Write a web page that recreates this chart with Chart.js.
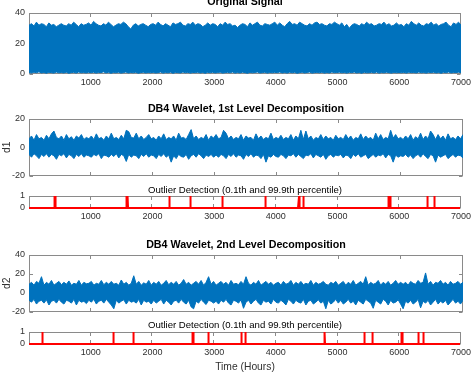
<!DOCTYPE html>
<html>
<head>
<meta charset="utf-8">
<script src="https://cdn.jsdelivr.net/npm/chart.js@4.4.1/dist/chart.umd.min.js"></script>
<style>
  html, body { margin: 0; padding: 0; background: #fff; }
  #figure { position: relative; width: 474px; height: 372px; overflow: hidden; background: #fff; }
  #figure canvas { position: absolute; left: 0; }
</style>
</head>
<body>
<div id="figure">
  <canvas id="signal-chart" width="474" height="94" style="top:-4px"></canvas>
  <canvas id="d1-chart" width="474" height="82" style="top:103px"></canvas>
  <canvas id="d1-outlier-chart" width="474" height="38" style="top:184px"></canvas>
  <canvas id="d2-chart" width="474" height="82" style="top:239px"></canvas>
  <canvas id="d2-outlier-chart" width="474" height="53" style="top:319px"></canvas>
</div>
<script>
// time axis (hours)
const xMin = 0;
const xMax = 7000;
const xTickValues = [1000, 2000, 3000, 4000, 5000, 6000, 7000];

// original signal: upper / lower edge of the band, read every ~40 hours
const signalHigh = [
  32, 33, 31.5, 34, 32, 33, 32.5, 31, 33.5, 32, 32.5, 31, 32, 33, 32, 31.5, 33, 32, 34, 32.5, 31, 33, 32, 32.5, 33.5,
  32, 34.5, 33, 32, 31.5, 33, 32, 34, 32.5, 31, 32, 33, 32.5, 34, 33, 31, 29.5, 32, 33, 31.5, 32.5, 33, 32, 31, 32.5,
  33, 32, 34, 32.5, 31.5, 33, 32, 31, 33.5, 32.5, 33, 34, 32, 31.5, 33, 32.5, 34, 32, 33, 32.5, 31, 32, 33.5, 32, 33,
  32.5, 31, 33, 32, 34, 32.5, 33, 31.5, 32, 30.5, 32, 33, 32.5, 31, 33.5, 32, 33, 34, 32, 31.5, 33, 32.5, 32, 33, 34,
  32, 33.5, 32, 31, 33, 34.5, 32.5, 33, 32, 34, 33, 32, 31.5, 33, 32, 33.5, 34, 32.5, 33, 32, 31.5, 33, 32.5, 34, 33,
  32, 33.5, 31, 32.5, 30, 32, 33, 32.5, 31.5, 33, 32, 34, 32.5, 33, 31.5, 32, 33, 32.5, 34, 32, 33, 31.5, 32, 33.5, 32,
  32.5, 31, 33, 32, 34.5, 33, 32, 33.5, 32, 31.5, 33, 32.5, 34, 32, 33, 31.5, 32.5, 33, 34, 32, 31, 33.5, 32.5, 34, 32
];
const signalLow = [
  1, 0.6, 1.2, 0.8, 1.4, 0.7, 1, 0.5, 1.1, 0.9, 0.6, 1.3, 0.8, 1, 0.7, 1.2, 0.5, 0.9, 1.1, 0.6, 1.3, 0.8, 1, 0.7, 1.1,
  0.8, 1.2, 0.6, 1, 0.9, 1.4, 0.7, 1.1, 0.5, 1, 0.8, 1.2, 0.6, 0.9, 1.3, 0.7, 1, 0.8, 1.1, 0.5, 0.9, 1.2, 0.7, 1, 0.8,
  1.1, 0.7, 0.9, 1.3, 0.6, 1, 0.8, 1.2, 0.5, 1, 0.9, 0.7, 1.3, 0.8, 1.1, 0.6, 1, 0.9, 1.2, 0.7, 1, 0.5, 1.1, 0.8, 1.2,
  0.7, 1, 1.2, 0.6, 0.9, 1.1, 0.8, 1.3, 0.6, 1, 0.7, 1.2, 0.9, 0.5, 1.1, 0.8, 1, 1.3, 0.7, 0.9, 1.2, 0.6, 1, 0.8, 1.1,
  0.9, 1.3, 0.7, 1, 0.6, 1.2, 0.8, 1.1, 0.5, 0.9, 1.2, 0.7, 1, 1.3, 0.6, 0.9, 1.1, 0.8, 1.2, 0.6, 1, 0.7, 1.3, 0.9, 1,
  1.2, 0.8, 1, 0.6, 1.1, 0.9, 1.3, 0.7, 1, 0.5, 1.2, 0.8, 0.9, 1.1, 0.7, 1.3, 0.6, 1, 0.8, 1.2, 0.9, 0.6, 1.1, 0.8, 1,
  0.8, 1.1, 0.6, 1.2, 0.9, 1, 0.7, 1.3, 0.8, 1, 0.6, 1.1, 0.9, 1.2, 0.7, 1, 0.5, 1.1, 0.8, 1.3, 0.7, 1, 0.9, 1.2, 0.8
];

// DB4 level 1 detail (d1)
const d1High = [
  6, 8, 5, 9, 6, 7, 5, 8.5, 6, 9.5, 11.5, 7, 6, 8, 5, 9, 6, 7.5, 5, 8, 6.5, 9, 5.5, 7, 6,
  8, 5.5, 9.5, 6, 7, 5, 8, 6, 10, 6, 7, 5.5, 8.5, 6, 12, 11, 7, 6.5, 10, 6, 8, 5.5, 7, 9, 6,
  7, 5, 8, 6, 9.5, 5.5, 7, 6, 8, 5, 10, 6.5, 7, 5.5, 9, 12.5, 6, 8, 5.5, 7, 6, 9, 5, 8, 6.5,
  9, 6, 7, 12, 10, 6, 8, 5.5, 7, 6, 9, 5, 8, 6.5, 7, 5, 9.5, 6, 8, 5.5, 7, 6, 10, 5.5, 7,
  6, 8.5, 5.5, 7, 6, 9, 5, 8, 6, 12, 5.5, 11.5, 6, 8, 5, 7, 6, 9, 5.5, 8, 6, 7, 5, 8.5, 6,
  7, 5.5, 9, 6, 8, 5, 7, 6, 9.5, 5.5, 8, 6, 7, 5, 10, 6, 9, 5.5, 7, 6, 12, 6.5, 9, 6, 7,
  5.5, 8, 6, 9, 5, 7.5, 6, 10, 5.5, 8, 6, 11.5, 9, 5.5, 9, 6, 8, 5, 9.5, 6, 7, 5.5, 8, 6, 9
];
const d1Low = [
  -5, -7, -4.5, -6, -8, -5, -6.5, -4.5, -7, -5, -6, -8.5, -5, -6, -4.5, -7.5, -5, -6, -8, -5, -6.5, -4.5, -7, -5.5, -6,
  -7, -5, -6, -4.5, -8, -5.5, -6, -7, -5, -6.5, -4.5, -7.5, -5, -6, -10, -5, -7, -5.5, -6, -8, -5, -6.5, -4.5, -7, -5.5,
  -6, -8, -5, -6.5, -4.5, -7, -5.5, -10.5, -6, -8, -5, -6.5, -7, -5, -8.5, -6, -5, -7, -4.5, -6, -8, -5.5, -6.5, -5, -7,
  -5.5, -7, -5, -6, -8, -5, -6.5, -4.5, -7, -5.5, -6, -8.5, -5, -6.5, -4.5, -7, -5.5, -6, -8, -5, -10.5, -6, -7, -5, -6.5,
  -7, -5, -6, -8, -5.5, -6, -4.5, -7, -5, -6.5, -8, -5.5, -6, -4.5, -7.5, -5, -6, -7, -5, -8.5, -6, -5, -7, -5.5, -6,
  -5, -7.5, -5.5, -6, -8, -5, -6.5, -4.5, -7, -6, -5, -8, -6.5, -5, -7, -5.5, -6, -4.5, -7.5, -5, -6, -10.5, -5.5, -7, -6,
  -6.5, -5, -7, -5.5, -8, -6, -5, -7, -4.5, -6.5, -8, -5, -6, -10.5, -5.5, -7, -6, -5, -8, -6.5, -5, -7, -5.5, -6, -7.5
];

// DB4 level 2 detail (d2)
const d2High = [
  9, 11, 8, 12, 10, 17, 8, 11, 9, 13, 8, 10, 12, 8.5, 11, 9, 12.5, 8, 10, 9, 13, 8, 11, 9.5, 10,
  12, 8, 10, 9, 13, 8.5, 11, 9, 12, 9, 10, 8, 13.5, 9, 11, 8, 10, 18, 9, 12, 8, 10.5, 9, 13, 8,
  11, 9, 12, 8, 10, 13, 8.5, 11, 9, 12, 8, 10, 14, 9, 11, 8, 10, 12, 9, 13, 8, 11, 17, 9, 12,
  8, 10, 12, 9, 11, 8, 13, 9, 10, 8.5, 12, 9, 17, 10, 8, 11, 9, 13, 8, 10, 12, 9, 11, 8, 10,
  11, 8, 12, 9, 10, 13, 8, 11, 9, 12, 8.5, 10, 9, 13, 8, 11, 9, 10, 12, 9, 8, 11, 9.5, 12, 8,
  10, 12, 8, 11, 9, 13, 8, 10, 12, 9, 17, 8, 11, 9, 10, 13, 8, 11, 9, 12, 8, 10, 13, 9, 11,
  9, 11, 8, 12, 10, 9, 13, 10, 11, 21, 9, 12, 8, 11, 10, 13, 9, 11, 8, 12, 9, 10, 12, 9, 11
];
const d2Low = [
  -8, -10, -7, -12, -9, -8, -11, -7.5, -13, -9, -8, -11, -7, -10, -12, -8, -9, -11, -7, -13, -8, -10, -9, -11.5, -8,
  -10, -7, -12, -9, -8, -11, -7, -10, -13, -17, -8, -11, -9, -7.5, -12, -8, -10, -9, -11, -7, -13, -8, -10, -9, -12,
  -8, -11, -9, -7, -12, -8, -10, -13, -9, -8, -11, -7, -10, -12, -8, -15, -17, -9, -11, -7, -10, -12.5, -8, -9, -11,
  -9, -12, -8, -10, -7, -11, -13, -8, -9, -11, -7.5, -16.5, -10, -8, -12, -9, -7, -11, -13, -8, -10, -9, -12, -7, -10,
  -11, -8, -10, -13, -7, -9, -12, -8, -10, -11, -7, -13, -9, -8, -12, -10, -7.5, -11, -9, -17, -8, -12, -10, -7, -11,
  -8, -12, -10, -7, -11, -9, -13, -8, -10, -12, -7, -9, -11, -16.5, -8, -10, -12, -7, -9, -13, -8, -11, -10, -7.5, -12,
  -17, -9, -11, -8, -12, -10, -7, -16, -9, -11, -8, -13, -10, -7, -12, -9, -11, -8, -13, -10, -7, -11, -9, -12, -8
];

// hours flagged as outliers (outside 0.1th / 99.9th percentile)
const d1OutlierHours = [416, 422, 1588, 1596, 1604, 2279, 2618, 3134, 3828, 4376, 4447, 5823, 5855, 6463, 6570];
const d2OutlierHours = [215, 1366, 1694, 2650, 2658, 2666, 2915, 3447, 3512, 4796, 5441, 5560, 6040, 6048, 6318, 6399];

const blue = '#0072BD';
const red = '#FF0000';
const axisColor = '#8a8a8a';
const textColor = '#303030';
const fontFamily = '"Liberation Sans", Arial, Helvetica, sans-serif';
const tickFont = { family: fontFamily, size: 9 };
const tickLen = 3.5;

Chart.defaults.font.family = fontFamily;

function bandPoints(values) {
  const step = (xMax - xMin) / (values.length - 1);
  return values.map((v, i) => ({ x: xMin + i * step, y: v }));
}

function flagPoints(outlierHours) {
  const marked = new Set(outlierHours);
  const points = [];
  for (let h = xMin; h <= xMax; h++) {
    points.push({ x: h, y: marked.has(h) ? 1 : 0 });
  }
  return points;
}

function bandDatasets(high, low) {
  return [
    { data: bandPoints(high), borderColor: blue, backgroundColor: blue, borderWidth: 1, pointRadius: 0, fill: '+1' },
    { data: bandPoints(low), borderColor: blue, borderWidth: 1, pointRadius: 0, fill: false }
  ];
}

function flagDatasets(outlierHours) {
  return [
    { data: flagPoints(outlierHours), borderColor: red, borderWidth: 2, pointRadius: 0, fill: false, clip: false }
  ];
}

// MATLAB-like axes box with inward tick marks on all four sides
const matlabBox = {
  id: 'matlabBox',
  beforeDatasetsDraw(chart) {
    const { ctx, chartArea: a, scales: { x, y } } = chart;
    const L = Math.round(a.left) + 0.5, R = Math.round(a.right) - 0.5;
    const T = Math.round(a.top) + 0.5, B = Math.round(a.bottom) - 0.5;
    ctx.save();
    ctx.strokeStyle = axisColor;
    ctx.lineWidth = 1;
    ctx.strokeRect(L, T, R - L, B - T);
    ctx.beginPath();
    x.ticks.forEach(t => {
      const px = Math.round(x.getPixelForValue(t.value)) - 0.5;
      ctx.moveTo(px, T); ctx.lineTo(px, T + tickLen);
      ctx.moveTo(px, B); ctx.lineTo(px, B - tickLen);
    });
    y.ticks.forEach(t => {
      const py = Math.round(y.getPixelForValue(t.value)) + 0.5;
      ctx.moveTo(L, py); ctx.lineTo(L + tickLen, py);
      ctx.moveTo(R, py); ctx.lineTo(R - tickLen, py);
    });
    ctx.stroke();
    ctx.restore();
  }
};

function makePanel(canvasId, p) {
  new Chart(document.getElementById(canvasId), {
    type: 'line',
    data: { datasets: p.datasets },
    options: {
      responsive: false,
      animation: false,
      parsing: false,
      normalized: true,
      layout: { padding: { top: 0, right: 11, bottom: 0, left: 0 } },
      plugins: {
        legend: { display: false },
        tooltip: { enabled: false },
        title: {
          display: true,
          text: p.title,
          fullSize: false,
          color: '#000',
          font: p.titleFont,
          padding: p.titlePadding
        }
      },
      scales: {
        x: {
          type: 'linear',
          min: xMin,
          max: xMax,
          afterBuildTicks: s => { s.ticks = xTickValues.map(v => ({ value: v })); },
          afterFit: s => { s.height = p.xHeight; },
          grid: { display: false, drawTicks: false },
          border: { display: false },
          ticks: {
            display: p.xLabels,
            font: tickFont,
            color: textColor,
            padding: 3,
            maxRotation: 0,
            autoSkip: false,
            callback: v => String(v)
          },
          title: {
            display: !!p.xTitle,
            text: p.xTitle || '',
            color: textColor,
            font: { family: fontFamily, size: 10.3, lineHeight: 1 },
            padding: { top: 0, bottom: 0 }
          }
        },
        y: {
          min: p.yMin,
          max: p.yMax,
          afterBuildTicks: s => { s.ticks = p.yTicks.map(v => ({ value: v })); },
          afterFit: s => { s.width = 29; },
          grid: { display: false, drawTicks: false },
          border: { display: false },
          ticks: { font: tickFont, color: textColor, padding: 4, autoSkip: false, callback: v => String(v) },
          title: {
            display: !!p.yTitle,
            text: p.yTitle || '',
            color: textColor,
            font: { family: fontFamily, size: 10.3 },
            padding: { top: 1, bottom: 0 }
          }
        }
      }
    },
    plugins: [matlabBox]
  });
}

const boldTitle = { family: fontFamily, size: 10.7, weight: 'bold', lineHeight: 1.2 };
const plainTitle = { family: fontFamily, size: 9.6, weight: 'normal', lineHeight: 1.2 };
const outlierTitle = 'Outlier Detection (0.1th and 99.9th percentile)';

makePanel('signal-chart', {
  datasets: bandDatasets(signalHigh, signalLow),
  title: 'Original Signal', titleFont: boldTitle, titlePadding: { top: 0, bottom: 4.16 },
  yMin: 0, yMax: 40, yTicks: [0, 20, 40], xLabels: true, xHeight: 16
});

makePanel('d1-chart', {
  datasets: bandDatasets(d1High, d1Low),
  title: 'DB4 Wavelet, 1st Level Decomposition', titleFont: boldTitle, titlePadding: { top: 0, bottom: 3.16 },
  yMin: -20, yMax: 20, yTicks: [-20, 0, 20], yTitle: 'd1', xLabels: false, xHeight: 6
});

makePanel('d1-outlier-chart', {
  datasets: flagDatasets(d1OutlierHours),
  title: outlierTitle, titleFont: plainTitle, titlePadding: { top: 0.24, bottom: 0.24 },
  yMin: 0, yMax: 1, yTicks: [0, 1], xLabels: true, xHeight: 14
});

makePanel('d2-chart', {
  datasets: bandDatasets(d2High, d2Low),
  title: 'DB4 Wavelet, 2nd Level Decomposition', titleFont: boldTitle, titlePadding: { top: 0, bottom: 3.16 },
  yMin: -20, yMax: 40, yTicks: [-20, 0, 20, 40], yTitle: 'd2', xLabels: false, xHeight: 6
});

makePanel('d2-outlier-chart', {
  datasets: flagDatasets(d2OutlierHours),
  title: outlierTitle, titleFont: plainTitle, titlePadding: { top: 0.24, bottom: 1.24 },
  yMin: 0, yMax: 1, yTicks: [0, 1], xLabels: true, xHeight: 28, xTitle: 'Time (Hours)'
});
</script>
</body>
</html>
